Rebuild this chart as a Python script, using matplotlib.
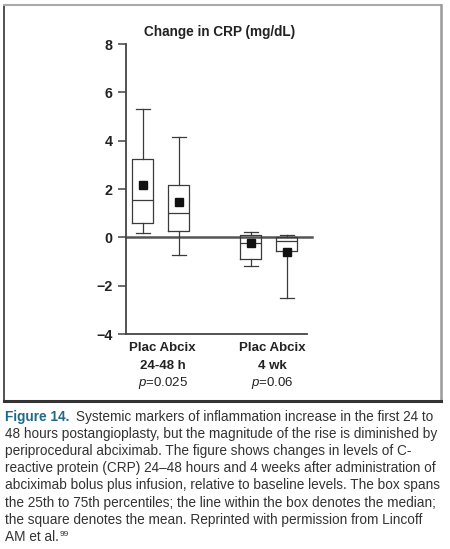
import matplotlib
matplotlib.use("Agg")
import matplotlib.pyplot as plt
from matplotlib.lines import Line2D

plt.rcParams['font.family'] = ['Liberation Sans', 'DejaVu Sans']
plt.rcParams['mathtext.fontset'] = 'custom'
plt.rcParams['mathtext.rm'] = 'Liberation Sans'
plt.rcParams['mathtext.it'] = 'Liberation Sans:italic'

# ---- data ----
title = "Change in CRP (mg/dL)"
positions = [1, 2, 4, 5]
whislo = [0.20, -0.72, -1.20, -2.52]
q1 = [0.59, 0.28, -0.89, -0.58]
med = [1.54, 1.00, -0.23, -0.15]
q3 = [3.24, 2.16, 0.08, 0.02]
whishi = [5.30, 4.17, 0.23, 0.10]
means = [2.15, 1.48, -0.24, -0.62]
group_centers = [1.55, 4.6]
group_labels = [["Plac Abcix", "24-48 h", r"$p$=0.025"],
                ["Plac Abcix", "4 wk", r"$p$=0.06"]]
yticks = [-4, -2, 0, 2, 4, 6, 8]
caption_lines = [
    "Systemic markers of inflammation increase in the first 24 to",
    "48 hours postangioplasty, but the magnitude of the rise is diminished by",
    "periprocedural abciximab. The figure shows changes in levels of C-",
    "reactive protein (CRP) 24\u201348 hours and 4 weeks after administration of",
    "abciximab bolus plus infusion, relative to baseline levels. The box spans",
    "the 25th to 75th percentiles; the line within the box denotes the median;",
    "the square denotes the mean. Reprinted with permission from Lincoff",
    "AM et al.",
]
fig_label = "Figure 14."
ref_num = "99"

W, H = 450, 549
XMIN, XMAX = 0.53, 5.56
fig = plt.figure(figsize=(W / 100, H / 100), dpi=100)
fig.patch.set_facecolor('white')

ax = fig.add_axes([126 / W, 1 - 334 / H, 181 / W, 290 / H])
stats = []
for i in range(len(positions)):
    stats.append(dict(whislo=whislo[i], q1=q1[i], med=med[i], q3=q3[i],
                      whishi=whishi[i], mean=means[i], fliers=[]))
lc = '#3a3a3a'
ax.bxp(stats, positions=positions, widths=0.58, capwidths=0.38,
       showmeans=True, showfliers=False, patch_artist=False,
       boxprops=dict(color=lc, linewidth=0.9),
       whiskerprops=dict(color=lc, linewidth=0.9),
       capprops=dict(color=lc, linewidth=0.9),
       medianprops=dict(color=lc, linewidth=0.9),
       meanprops=dict(marker='s', markerfacecolor='#111111',
                      markeredgecolor='#111111', markersize=5.8))
ax.axhline(0, xmin=0, xmax=(312 - 126) / 181, color='#555555', lw=1.8,
           clip_on=False, zorder=1)

ax.set_xlim(XMIN, XMAX)
ax.set_ylim(-4, 8)
ax.set_yticks(yticks)
ax.set_yticklabels([str(t).replace('-', '\u2212') for t in yticks],
                   fontsize=10.3, fontweight='bold', color='#222222')
ax.set_xticks([])
for s in ['top', 'right']:
    ax.spines[s].set_visible(False)
for s in ['left', 'bottom']:
    ax.spines[s].set_color('#444444')
    ax.spines[s].set_linewidth(1.3)
ax.tick_params(axis='y', direction='out', length=6, width=1.1,
               color='#444444', pad=3.5)
ax.patch.set_alpha(0)

fig.text(220 / W, 1 - 32 / H, title, ha='center', va='center',
         fontsize=9.8, fontweight='bold', color='#222222')

rows_y = [348, 366, 383]
for gx, labs in zip(group_centers, group_labels):
    xfig = (126 + (gx - XMIN) / (XMAX - XMIN) * 181) / W
    for j, (lab, yy) in enumerate(zip(labs, rows_y)):
        fig.text(xfig, 1 - yy / H, lab, ha='center', va='center',
                 fontsize=9.5, fontweight='bold' if j < 2 else 'normal',
                 color='#222222')

# frame
fig.add_artist(Line2D([4 / W, 4 / W], [1 - 5 / H, 1 - 401 / H],
                      transform=fig.transFigure, color='#333333', lw=1.2))
fig.add_artist(Line2D([4 / W, 441 / W], [1 - 5 / H, 1 - 5 / H],
                      transform=fig.transFigure, color='#aaaaaa', lw=1.5))
fig.add_artist(Line2D([441 / W, 441 / W], [1 - 5 / H, 1 - 401 / H],
                      transform=fig.transFigure, color='#999999', lw=1.8))
fig.add_artist(Line2D([4 / W, 441 / W], [1 - 401 / H, 1 - 401 / H],
                      transform=fig.transFigure, color='#333333', lw=2.2))

# caption
cap_fs = 9.85
base0 = 421
step = 17.1
renderer = fig.canvas.get_renderer()
t0 = fig.text(5 / W, 1 - base0 / H, fig_label, ha='left', va='baseline',
              fontsize=cap_fs, fontweight='bold', color='#1f6a8a')
bb = t0.get_window_extent(renderer)
x_after = (bb.x1 + 7) / W
for i, line in enumerate(caption_lines):
    x = x_after if i == 0 else 5 / W
    t = fig.text(x, 1 - (base0 + i * step) / H, line, ha='left',
                 va='baseline', fontsize=cap_fs, color='#333333')
    if i == len(caption_lines) - 1:
        b2 = t.get_window_extent(renderer)
        fig.text((b2.x1 + 1) / W, 1 - (base0 + i * step - 5) / H, ref_num,
                 ha='left', va='baseline', fontsize=6, color='#333333')

fig.savefig('out.png', dpi=100, facecolor='white')
